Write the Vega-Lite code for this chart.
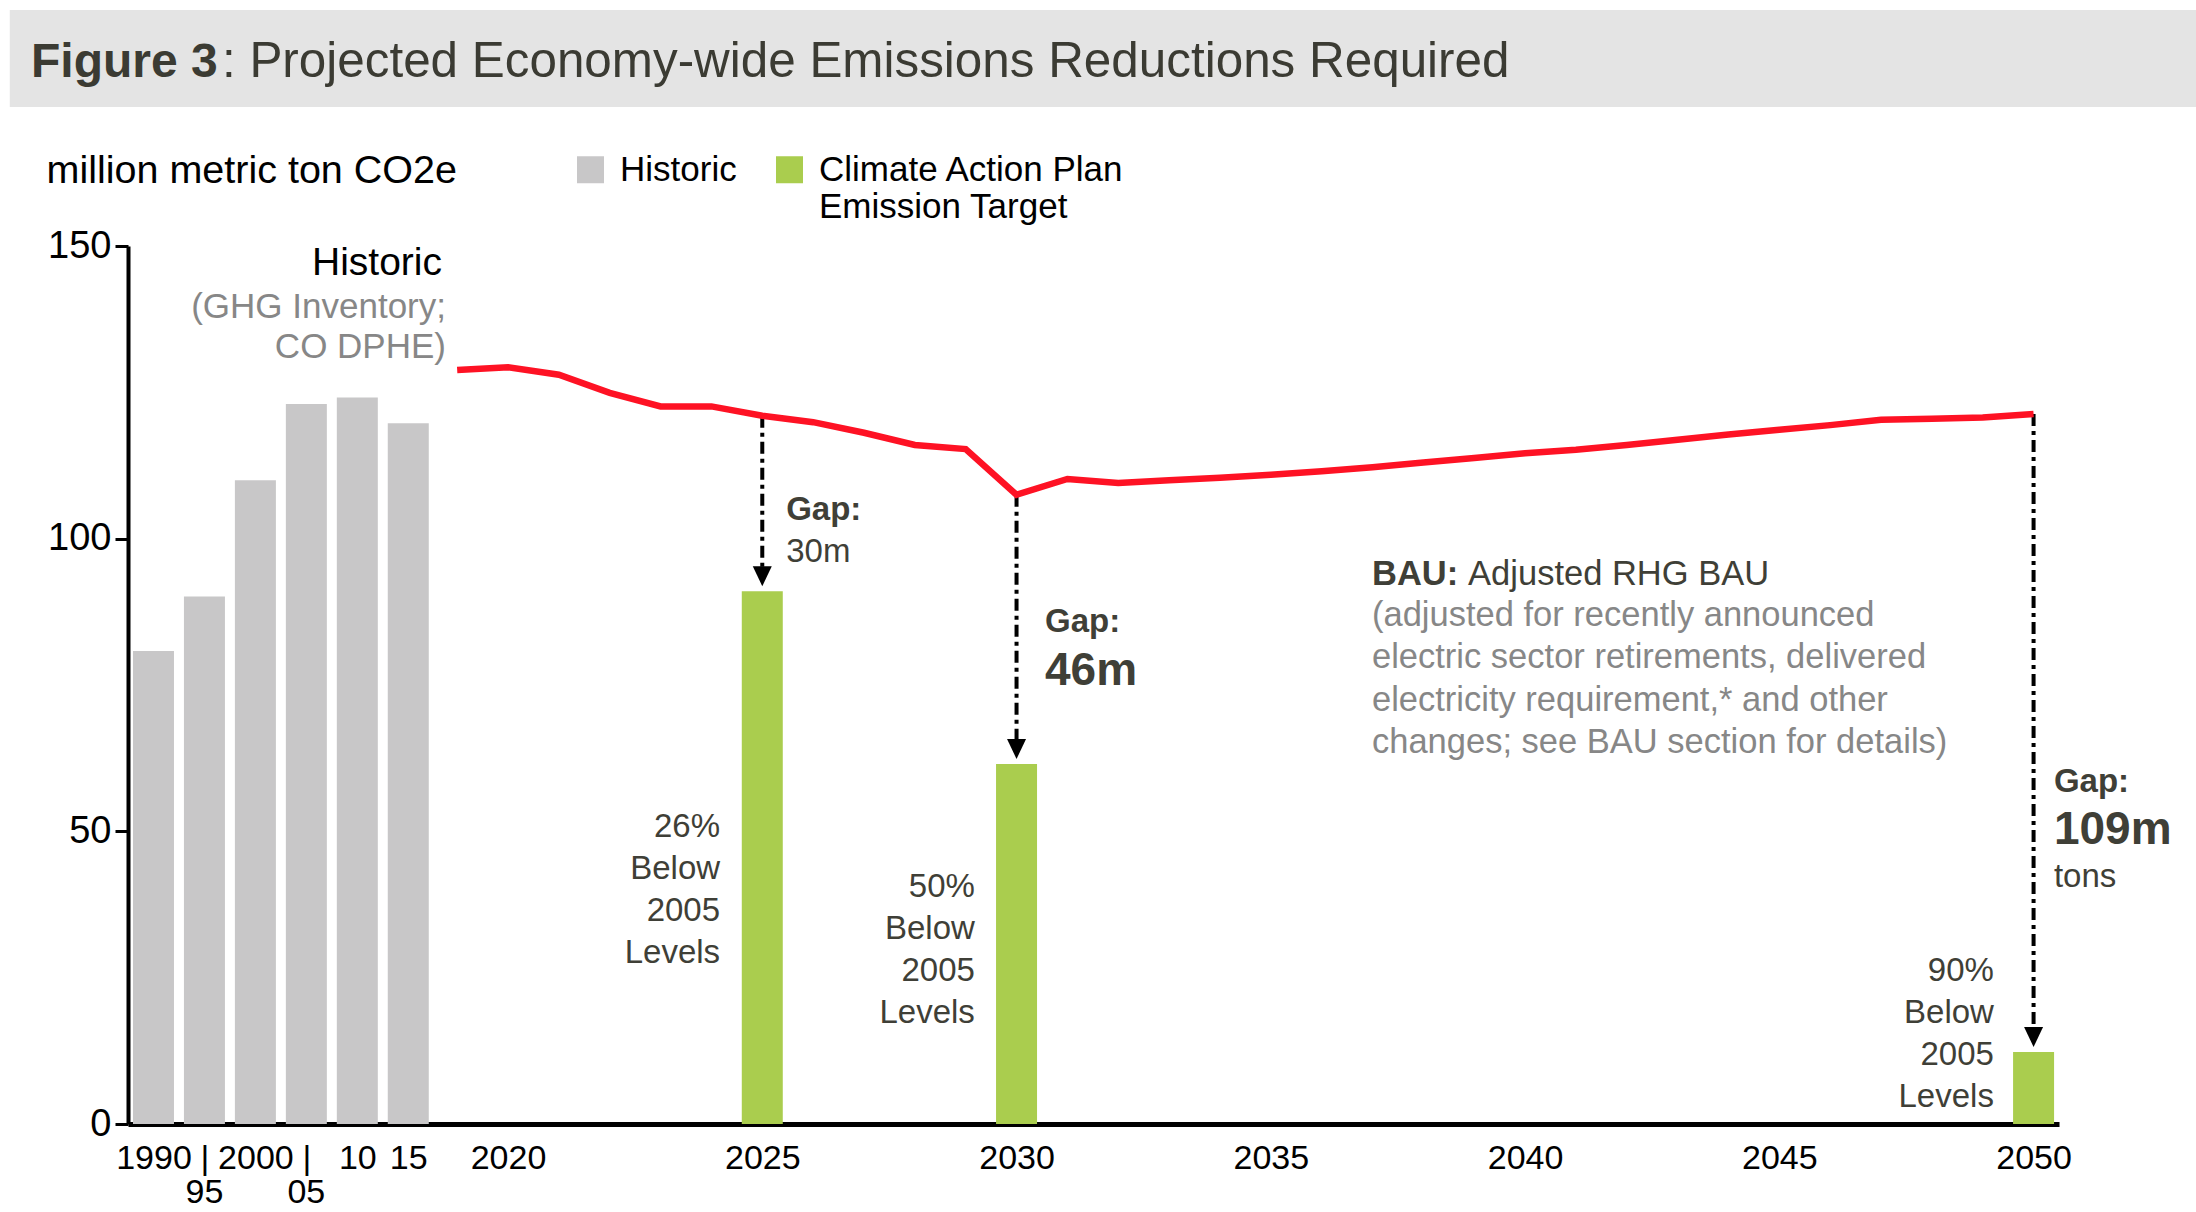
{
  "$schema": "https://vega.github.io/schema/vega-lite/v6.json",
  "width": 1931,
  "height": 878,
  "autosize": {"type": "none"},
  "padding": {"left": 128, "top": 246, "right": 137, "bottom": 88},
  "background": "white",
  "config": {
    "view": {"stroke": null},
    "font": "Liberation Sans",
    "text": {"font": "Liberation Sans"}
  },
  "datasets": {
    "bars": [
      {"year": 1990, "value": 80.8, "series": "Historic"},
      {"year": 1995, "value": 90.1, "series": "Historic"},
      {"year": 2000, "value": 110.0, "series": "Historic"},
      {"year": 2005, "value": 123.0, "series": "Historic"},
      {"year": 2010, "value": 124.1, "series": "Historic"},
      {"year": 2015, "value": 119.7, "series": "Historic"},
      {"year": 2025, "value": 91.0, "series": "Climate Action Plan Emission Target"},
      {"year": 2030, "value": 61.5, "series": "Climate Action Plan Emission Target"},
      {"year": 2050, "value": 12.3, "series": "Climate Action Plan Emission Target"}
    ],
    "bau": [
      {"year": 2019, "value": 128.8},
      {"year": 2020, "value": 129.3},
      {"year": 2021, "value": 128.0},
      {"year": 2022, "value": 124.9},
      {"year": 2023, "value": 122.6},
      {"year": 2024, "value": 122.6},
      {"year": 2025, "value": 121.0},
      {"year": 2026, "value": 119.9},
      {"year": 2027, "value": 118.1},
      {"year": 2028, "value": 116.0},
      {"year": 2029, "value": 115.3},
      {"year": 2030, "value": 107.5},
      {"year": 2031, "value": 110.2},
      {"year": 2032, "value": 109.5},
      {"year": 2033, "value": 110.0},
      {"year": 2034, "value": 110.4},
      {"year": 2035, "value": 110.9},
      {"year": 2036, "value": 111.5},
      {"year": 2037, "value": 112.2},
      {"year": 2038, "value": 113.0},
      {"year": 2039, "value": 113.8},
      {"year": 2040, "value": 114.6},
      {"year": 2041, "value": 115.2},
      {"year": 2042, "value": 116.0},
      {"year": 2043, "value": 116.9},
      {"year": 2044, "value": 117.8},
      {"year": 2045, "value": 118.6},
      {"year": 2046, "value": 119.4},
      {"year": 2047, "value": 120.3},
      {"year": 2048, "value": 120.5},
      {"year": 2049, "value": 120.7},
      {"year": 2050, "value": 121.3}
    ],
    "gaps": [
      {"year": 2025, "value": 121.0, "target": 91.0},
      {"year": 2030, "value": 107.5, "target": 61.5},
      {"year": 2050, "value": 121.3, "target": 12.3}
    ],
    "shortYears": [
      {"year": 1995, "value": 0, "text": "95"},
      {"year": 2005, "value": 0, "text": "05"}
    ],
    "heading": [
      {"kind": "band", "year": 1975.9, "year2": 2060, "value": 190.3, "value2": 173.75},
      {"kind": "bold", "year": 1977.98, "value": 178.9, "text": "Figure 3"},
      {"kind": "plain", "year": 1996.72, "value": 178.9, "text": ": Projected Economy-wide Emissions Reductions Required"}
    ],
    "notes": [
      {"kind": "historic", "year": 2018.31, "value": 145.05, "text": "Historic"},
      {"kind": "source", "year": 2018.7, "value": 137.7, "text": "(GHG Inventory;\nCO DPHE)"},
      {"kind": "gapHead", "year": 2025.47, "value": 103.19, "text": "Gap:"},
      {"kind": "gapHead", "year": 2030.56, "value": 84.06, "text": "Gap:"},
      {"kind": "gapHead", "year": 2050.4, "value": 56.72, "text": "Gap:"},
      {"kind": "gapSmall", "year": 2025.47, "value": 96.01, "text": "30m"},
      {"kind": "gapSmall", "year": 2050.4, "value": 40.49, "text": "tons"},
      {"kind": "gapBig", "year": 2030.56, "value": 75.0, "text": "46m"},
      {"kind": "gapBig", "year": 2050.4, "value": 47.84, "text": "109m"},
      {"kind": "pct", "year": 2024.17, "value": 49.03, "text": "26%\nBelow\n2005\nLevels"},
      {"kind": "pct", "year": 2029.18, "value": 38.78, "text": "50%\nBelow\n2005\nLevels"},
      {"kind": "pct", "year": 2049.22, "value": 24.43, "text": "90%\nBelow\n2005\nLevels"},
      {"kind": "bauHead", "year": 2036.99, "value": 92.0, "text": "BAU:"},
      {"kind": "bauName", "year": 2038.88, "value": 92.0, "text": "Adjusted RHG BAU"},
      {"kind": "bauNote", "year": 2036.99, "value": 85.1, "text": "(adjusted for recently announced\nelectric sector retirements, delivered\nelectricity requirement,* and other\nchanges; see BAU section for details)"}
    ]
  },
  "encoding": {
    "x": {
      "field": "year",
      "type": "quantitative",
      "scale": {"type": "linear", "domain": [1987.5, 2018.8, 2050.5], "range": [0, 319, 1931], "nice": false, "zero": false, "padding": 0},
      "axis": {
        "title": null,
        "values": [1990, 1995, 2000, 2005, 2010, 2015, 2020, 2025, 2030, 2035, 2040, 2045, 2050],
        "format": "d",
        "ticks": false,
        "grid": false,
        "domainWidth": 5,
        "domainColor": "#000000",
        "labelFontSize": 34,
        "labelColor": "#000000",
        "labelPadding": 17,
        "labelBaseline": "top",
        "labelOverlap": false,
        "labelFlush": false,
        "labelBound": false,
        "labelExpr": "datum.value == 1995 || datum.value == 2005 ? '|' : datum.value == 2010 ? '10' : datum.value == 2015 ? '15' : datum.label"
      }
    },
    "y": {
      "field": "value",
      "type": "quantitative",
      "scale": {"domain": [0, 150], "nice": false, "zero": true, "padding": 0},
      "axis": {
        "title": "million metric ton CO2e",
        "values": [0, 50, 100, 150],
        "grid": false,
        "domainWidth": 4,
        "domainColor": "#000000",
        "tickSize": 13,
        "tickWidth": 3,
        "tickColor": "#000000",
        "labelFontSize": 38,
        "labelColor": "#000000",
        "labelPadding": 4,
        "labelOverlap": false,
        "labelFlush": false,
        "labelBound": false,
        "titleAngle": 0,
        "titleAlign": "left",
        "titleBaseline": "alphabetic",
        "titleX": -82,
        "titleY": -64,
        "titleFontSize": 39.5,
        "titleFontWeight": "normal",
        "titleColor": "#000000"
      }
    }
  },
  "layer": [
    {
      "data": {"name": "heading"},
      "transform": [{"filter": "datum.kind == 'band'"}],
      "mark": {"type": "rect", "color": "#e4e4e4", "clip": false},
      "encoding": {
        "x2": {"field": "year2"},
        "y2": {"field": "value2"}
      }
    },
    {
      "data": {"name": "heading"},
      "transform": [{"filter": "datum.kind == 'bold'"}],
      "mark": {"type": "text", "align": "left", "baseline": "alphabetic", "fontSize": 48, "fontWeight": "bold", "color": "#3b3b33", "clip": false},
      "encoding": {"text": {"field": "text"}}
    },
    {
      "data": {"name": "heading"},
      "transform": [{"filter": "datum.kind == 'plain'"}],
      "mark": {"type": "text", "align": "left", "baseline": "alphabetic", "fontSize": 49.4, "color": "#3b3b33", "clip": false},
      "encoding": {"text": {"field": "text"}}
    },
    {
      "data": {"name": "bars"},
      "mark": {"type": "bar", "size": 41},
      "encoding": {
        "color": {
          "field": "series",
          "type": "nominal",
          "scale": {"domain": ["Historic", "Climate Action Plan Emission Target"], "range": ["#c8c7c8", "#aacd4e"]},
          "legend": {
            "title": null,
            "orient": "none",
            "legendX": 445,
            "legendY": -94,
            "direction": "horizontal",
            "symbolType": "square",
            "symbolSize": 729,
            "symbolStrokeWidth": 0,
            "symbolOpacity": 1,
            "labelFontSize": 35,
            "labelColor": "#000000",
            "labelOffset": 12,
            "labelLimit": 0,
            "columnPadding": 35,
            "padding": 0,
            "labelExpr": "datum.label == 'Historic' ? ['Historic', ''] : ['Climate Action Plan', 'Emission Target']"
          }
        }
      }
    },
    {
      "data": {"name": "shortYears"},
      "mark": {"type": "text", "align": "center", "baseline": "top", "fontSize": 34, "color": "#000000", "dy": 52, "clip": false},
      "encoding": {
        "text": {"field": "text"}
      }
    },
    {
      "data": {"name": "gaps"},
      "mark": {"type": "rule", "color": "#000000", "strokeWidth": 4, "strokeDash": [12, 5, 4, 5], "y2Offset": -12},
      "encoding": {
        "y2": {"field": "target"}
      }
    },
    {
      "data": {"name": "gaps"},
      "mark": {"type": "point", "shape": "M-0.95,-1L0.95,-1L0,1Z", "size": 400, "filled": true, "color": "#000000", "opacity": 1, "yOffset": -15},
      "encoding": {
        "y": {"field": "target", "type": "quantitative"}
      }
    },
    {
      "data": {"name": "bau"},
      "mark": {"type": "line", "color": "#fe1224", "strokeWidth": 6.5}
    },
    {
      "data": {"values": [{}]},
      "mark": {"type": "rule", "color": "#000000", "strokeWidth": 5, "strokeDash": [35, 20], "clip": false},
      "encoding": {
        "x": {"datum": 2018.8, "type": "quantitative"},
        "y": {"datum": 150, "type": "quantitative"},
        "y2": {"datum": 0}
      }
    },
    {
      "data": {"name": "notes"},
      "transform": [{"filter": "datum.kind == 'historic'"}],
      "mark": {"type": "text", "align": "right", "baseline": "alphabetic", "fontSize": 39, "color": "#000000", "clip": false},
      "encoding": {"text": {"field": "text"}}
    },
    {
      "data": {"name": "notes"},
      "transform": [{"filter": "datum.kind == 'source'"}],
      "mark": {"type": "text", "align": "right", "baseline": "alphabetic", "fontSize": 35, "color": "#878787", "lineBreak": "\n", "lineHeight": 40, "clip": false},
      "encoding": {"text": {"field": "text"}}
    },
    {
      "data": {"name": "notes"},
      "transform": [{"filter": "datum.kind == 'gapHead'"}],
      "mark": {"type": "text", "align": "left", "baseline": "alphabetic", "fontSize": 33, "fontWeight": "bold", "color": "#3f3f37", "clip": false},
      "encoding": {"text": {"field": "text"}}
    },
    {
      "data": {"name": "notes"},
      "transform": [{"filter": "datum.kind == 'gapSmall'"}],
      "mark": {"type": "text", "align": "left", "baseline": "alphabetic", "fontSize": 33, "color": "#3f3f37", "clip": false},
      "encoding": {"text": {"field": "text"}}
    },
    {
      "data": {"name": "notes"},
      "transform": [{"filter": "datum.kind == 'gapBig'"}],
      "mark": {"type": "text", "align": "left", "baseline": "alphabetic", "fontSize": 46, "fontWeight": "bold", "color": "#3f3f37", "clip": false},
      "encoding": {"text": {"field": "text"}}
    },
    {
      "data": {"name": "notes"},
      "transform": [{"filter": "datum.kind == 'pct'"}],
      "mark": {"type": "text", "align": "right", "baseline": "alphabetic", "fontSize": 33, "color": "#3f3f37", "lineBreak": "\n", "lineHeight": 42, "clip": false},
      "encoding": {"text": {"field": "text"}}
    },
    {
      "data": {"name": "notes"},
      "transform": [{"filter": "datum.kind == 'bauHead'"}],
      "mark": {"type": "text", "align": "left", "baseline": "alphabetic", "fontSize": 34.5, "fontWeight": "bold", "color": "#3f3f37", "clip": false},
      "encoding": {"text": {"field": "text"}}
    },
    {
      "data": {"name": "notes"},
      "transform": [{"filter": "datum.kind == 'bauName'"}],
      "mark": {"type": "text", "align": "left", "baseline": "alphabetic", "fontSize": 34.5, "color": "#3f3f37", "clip": false},
      "encoding": {"text": {"field": "text"}}
    },
    {
      "data": {"name": "notes"},
      "transform": [{"filter": "datum.kind == 'bauNote'"}],
      "mark": {"type": "text", "align": "left", "baseline": "alphabetic", "fontSize": 34.5, "color": "#878787", "lineBreak": "\n", "lineHeight": 42.5, "clip": false},
      "encoding": {"text": {"field": "text"}}
    }
  ]
}
